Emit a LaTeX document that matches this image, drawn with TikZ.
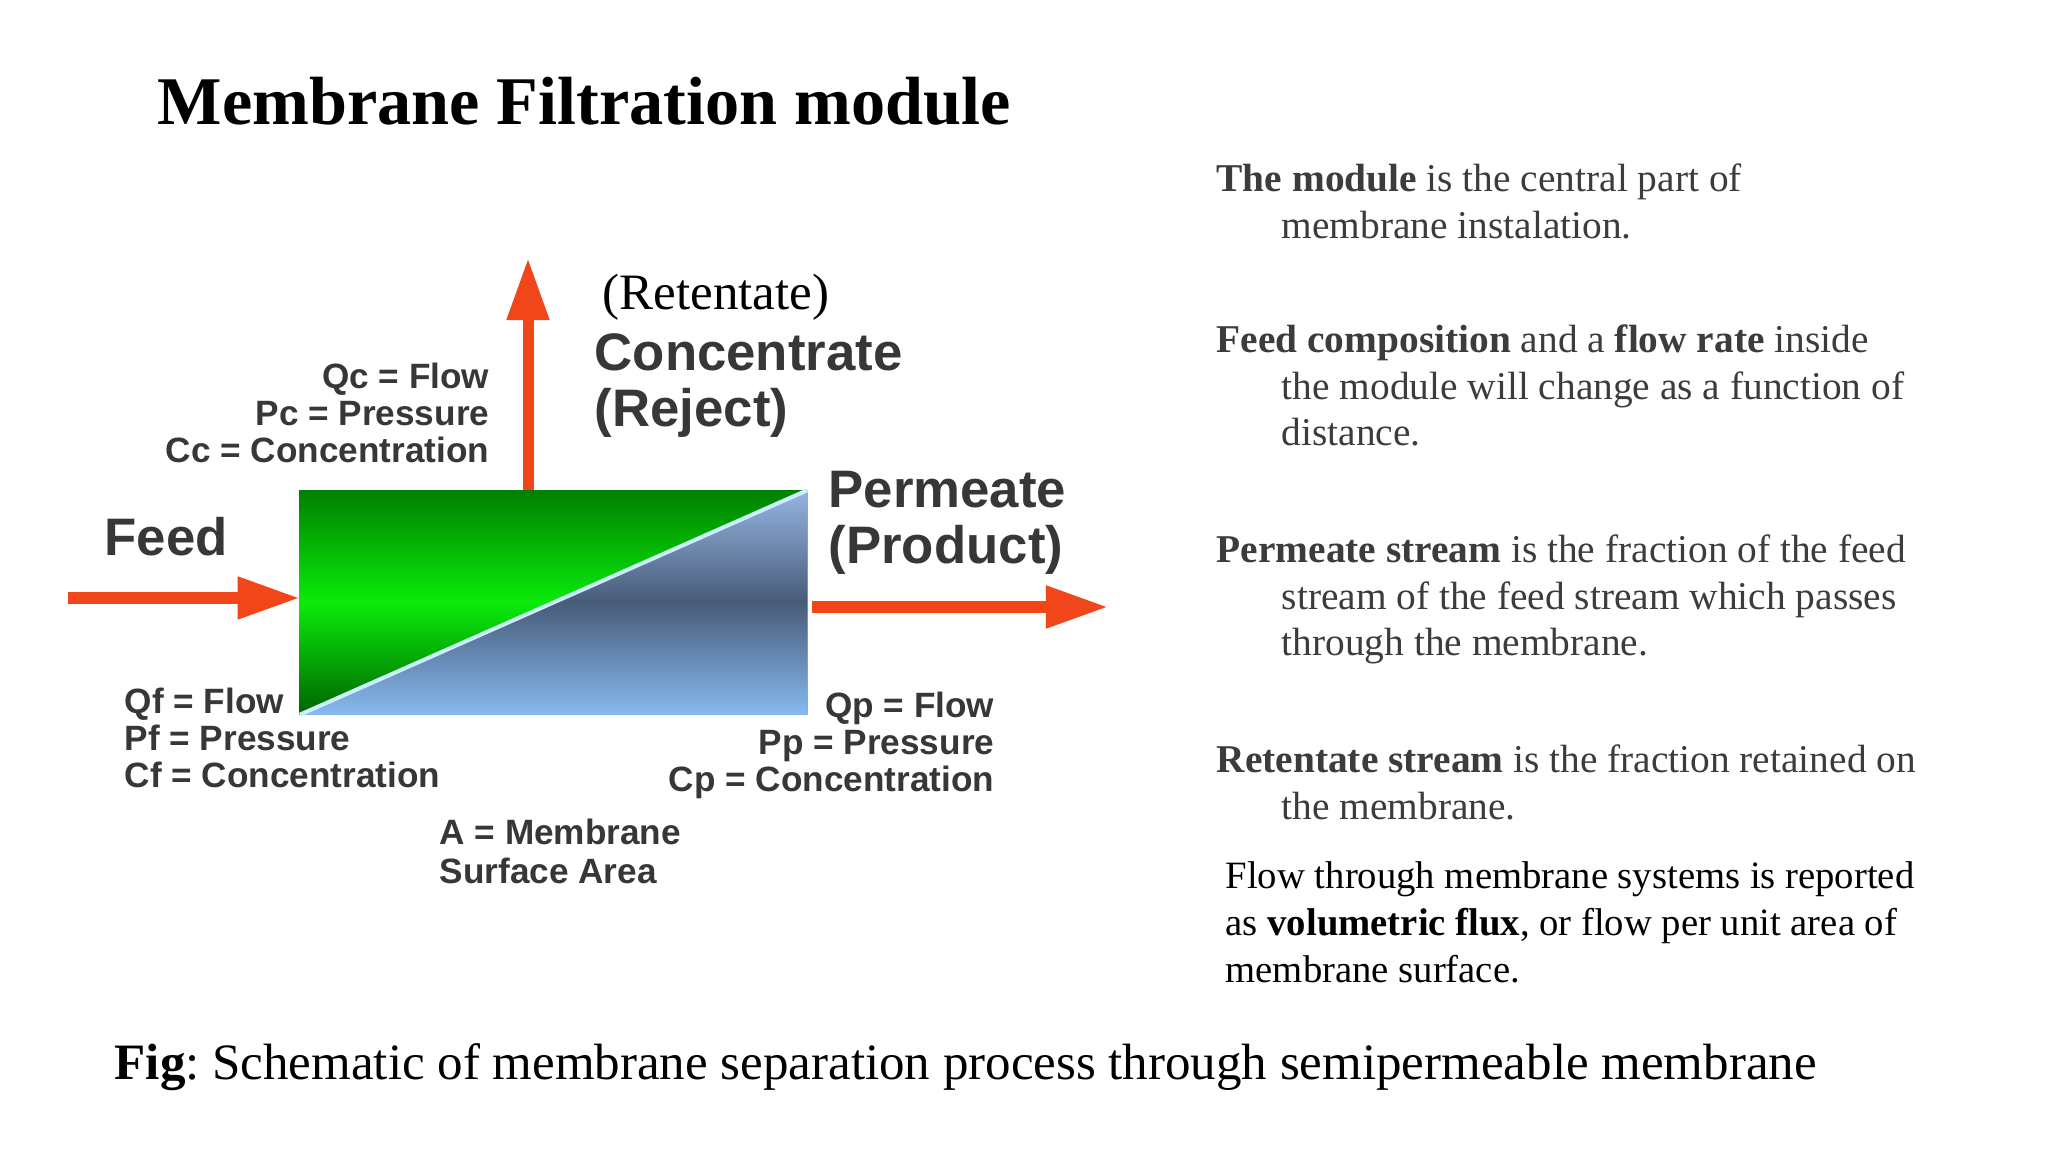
\documentclass[tikz,border=0pt]{standalone}
\usepackage{fontspec}
\setmainfont{Liberation Serif}
\setsansfont{Liberation Sans}
\usetikzlibrary{arrows.meta,positioning}
\frenchspacing
\definecolor{arroworange}{RGB}{240,70,25}
\definecolor{greentop}{RGB}{0,128,0}
\definecolor{greenmid}{RGB}{10,235,10}
\definecolor{greenlow}{RGB}{0,100,0}
\definecolor{bluetop}{RGB}{150,180,225}
\definecolor{bluemid}{RGB}{72,92,122}
\definecolor{bluelow}{RGB}{135,185,240}
\definecolor{labelgray}{RGB}{55,55,55}
\definecolor{notegray}{RGB}{60,60,60}
\tikzset{
  flowarrow/.style={-{Triangle[length=0.62cm,width=0.4cm]}, line width=0.11cm, color=arroworange},
  biglabel/.style={font=\sffamily\bfseries\fontsize{15}{15.8}\selectfont, text=labelgray,
    align=left, inner sep=0pt},
  varlabel/.style={font=\sffamily\bfseries\fontsize{10}{10.5}\selectfont, text=labelgray,
    inner sep=0pt},
  note/.style={font=\fontsize{11.2}{13.3}\selectfont, text=notegray, align=left, inner sep=0pt},
}

\begin{document}
\begin{tikzpicture}[x=0.01cm,y=-0.01cm]
  \useasboundingbox (0,0) rectangle (2048,1152);
  \fill[white] (0,0) rectangle (2048,1152);
  \node[anchor=base west, inner sep=0pt, font=\bfseries\fontsize{19.4}{23}\selectfont] (title) at (157,125)
    {Membrane Filtration module};

  % the module
  \node[minimum width=5.06cm, minimum height=2.23cm, inner sep=0pt] (mod) at (553.5,602.5) {};
  \fill[top color=greentop, bottom color=greenlow, middle color=greenmid]
    (mod.south west) -- (mod.north west) -- (mod.north east) -- cycle;
  \fill[top color=bluetop, bottom color=bluelow, middle color=bluemid]
    (mod.south west) -- (mod.north east) -- (mod.south east) -- cycle;
  \draw[white!80!cyan, line width=0.04cm] (mod.south west) -- (mod.north east);

  % streams
  \coordinate (feedin) at (68,598);
  \coordinate (permin) at (812,607);
  \coordinate (permout) at (1108,607);
  \coordinate (rejout) at (528,258);
  \draw[flowarrow] (feedin) -- (mod.west |- feedin);
  \draw[flowarrow] (permin) -- (permout);
  \draw[flowarrow] (mod.north -| rejout) -- (rejout);

  \node[biglabel, anchor=west] (feed) at (104,537) {Feed};
  \node[biglabel, anchor=north west] (conc) at (594,333) {Concentrate\\(Reject)};
  \node[biglabel, anchor=north west] (perm) at (828,471) {Permeate\\(Product)};
  \node[anchor=west, inner sep=0pt, font=\fontsize{14.5}{17}\selectfont] (ret) at (602,297) {(Retentate)};

  \node[varlabel, align=right, anchor=north east] (cvars) at (490,362)
    {Qc = Flow\\Pc = Pressure\\Cc = Concentration};
  \node[varlabel, align=left, anchor=north west] (fvars) at (124,687)
    {Qf = Flow\\Pf = Pressure\\Cf = Concentration};
  \node[varlabel, align=right, anchor=north east] (pvars) at (995,691)
    {Qp = Flow\\Pp = Pressure\\Cp = Concentration};
  \node[varlabel, align=left, anchor=north west, font=\sffamily\bfseries\fontsize{10}{11.3}\selectfont] (area) at (439,818)
    {A = Membrane\\Surface Area};

  % notes on the right
  \node[note, anchor=north west] (n1) at (1216,163)
    {\textbf{The module} is the central part of\\\hspace*{0.65cm}membrane instalation.};
  \node[note, anchor=north west] (n2) at (1216,324)
    {\textbf{Feed composition} and a \textbf{flow rate} inside\\\hspace*{0.65cm}the module will change as a function of\\\hspace*{0.65cm}distance.};
  \node[note, anchor=north west] (n3) at (1216,534)
    {\textbf{Permeate stream} is the fraction of the feed\\\hspace*{0.65cm}stream of the feed stream which passes\\\hspace*{0.65cm}through the membrane.};
  \node[note, anchor=north west] (n4) at (1216,744)
    {\textbf{Retentate stream} is the fraction retained on\\\hspace*{0.65cm}the membrane.};
  \node[note, font=\fontsize{11}{13.3}\selectfont, text=black, anchor=north west] (n5) at (1225,861)
    {Flow through membrane systems is reported\\as \textbf{volumetric flux}, or flow per unit area of\\membrane surface.};

  \node[anchor=base west, inner sep=0pt, font=\fontsize{14.5}{18}\selectfont] (caption) at (114,1079)
    {\textbf{Fig}: Schematic of membrane separation process through semipermeable membrane};
\end{tikzpicture}
\end{document}
